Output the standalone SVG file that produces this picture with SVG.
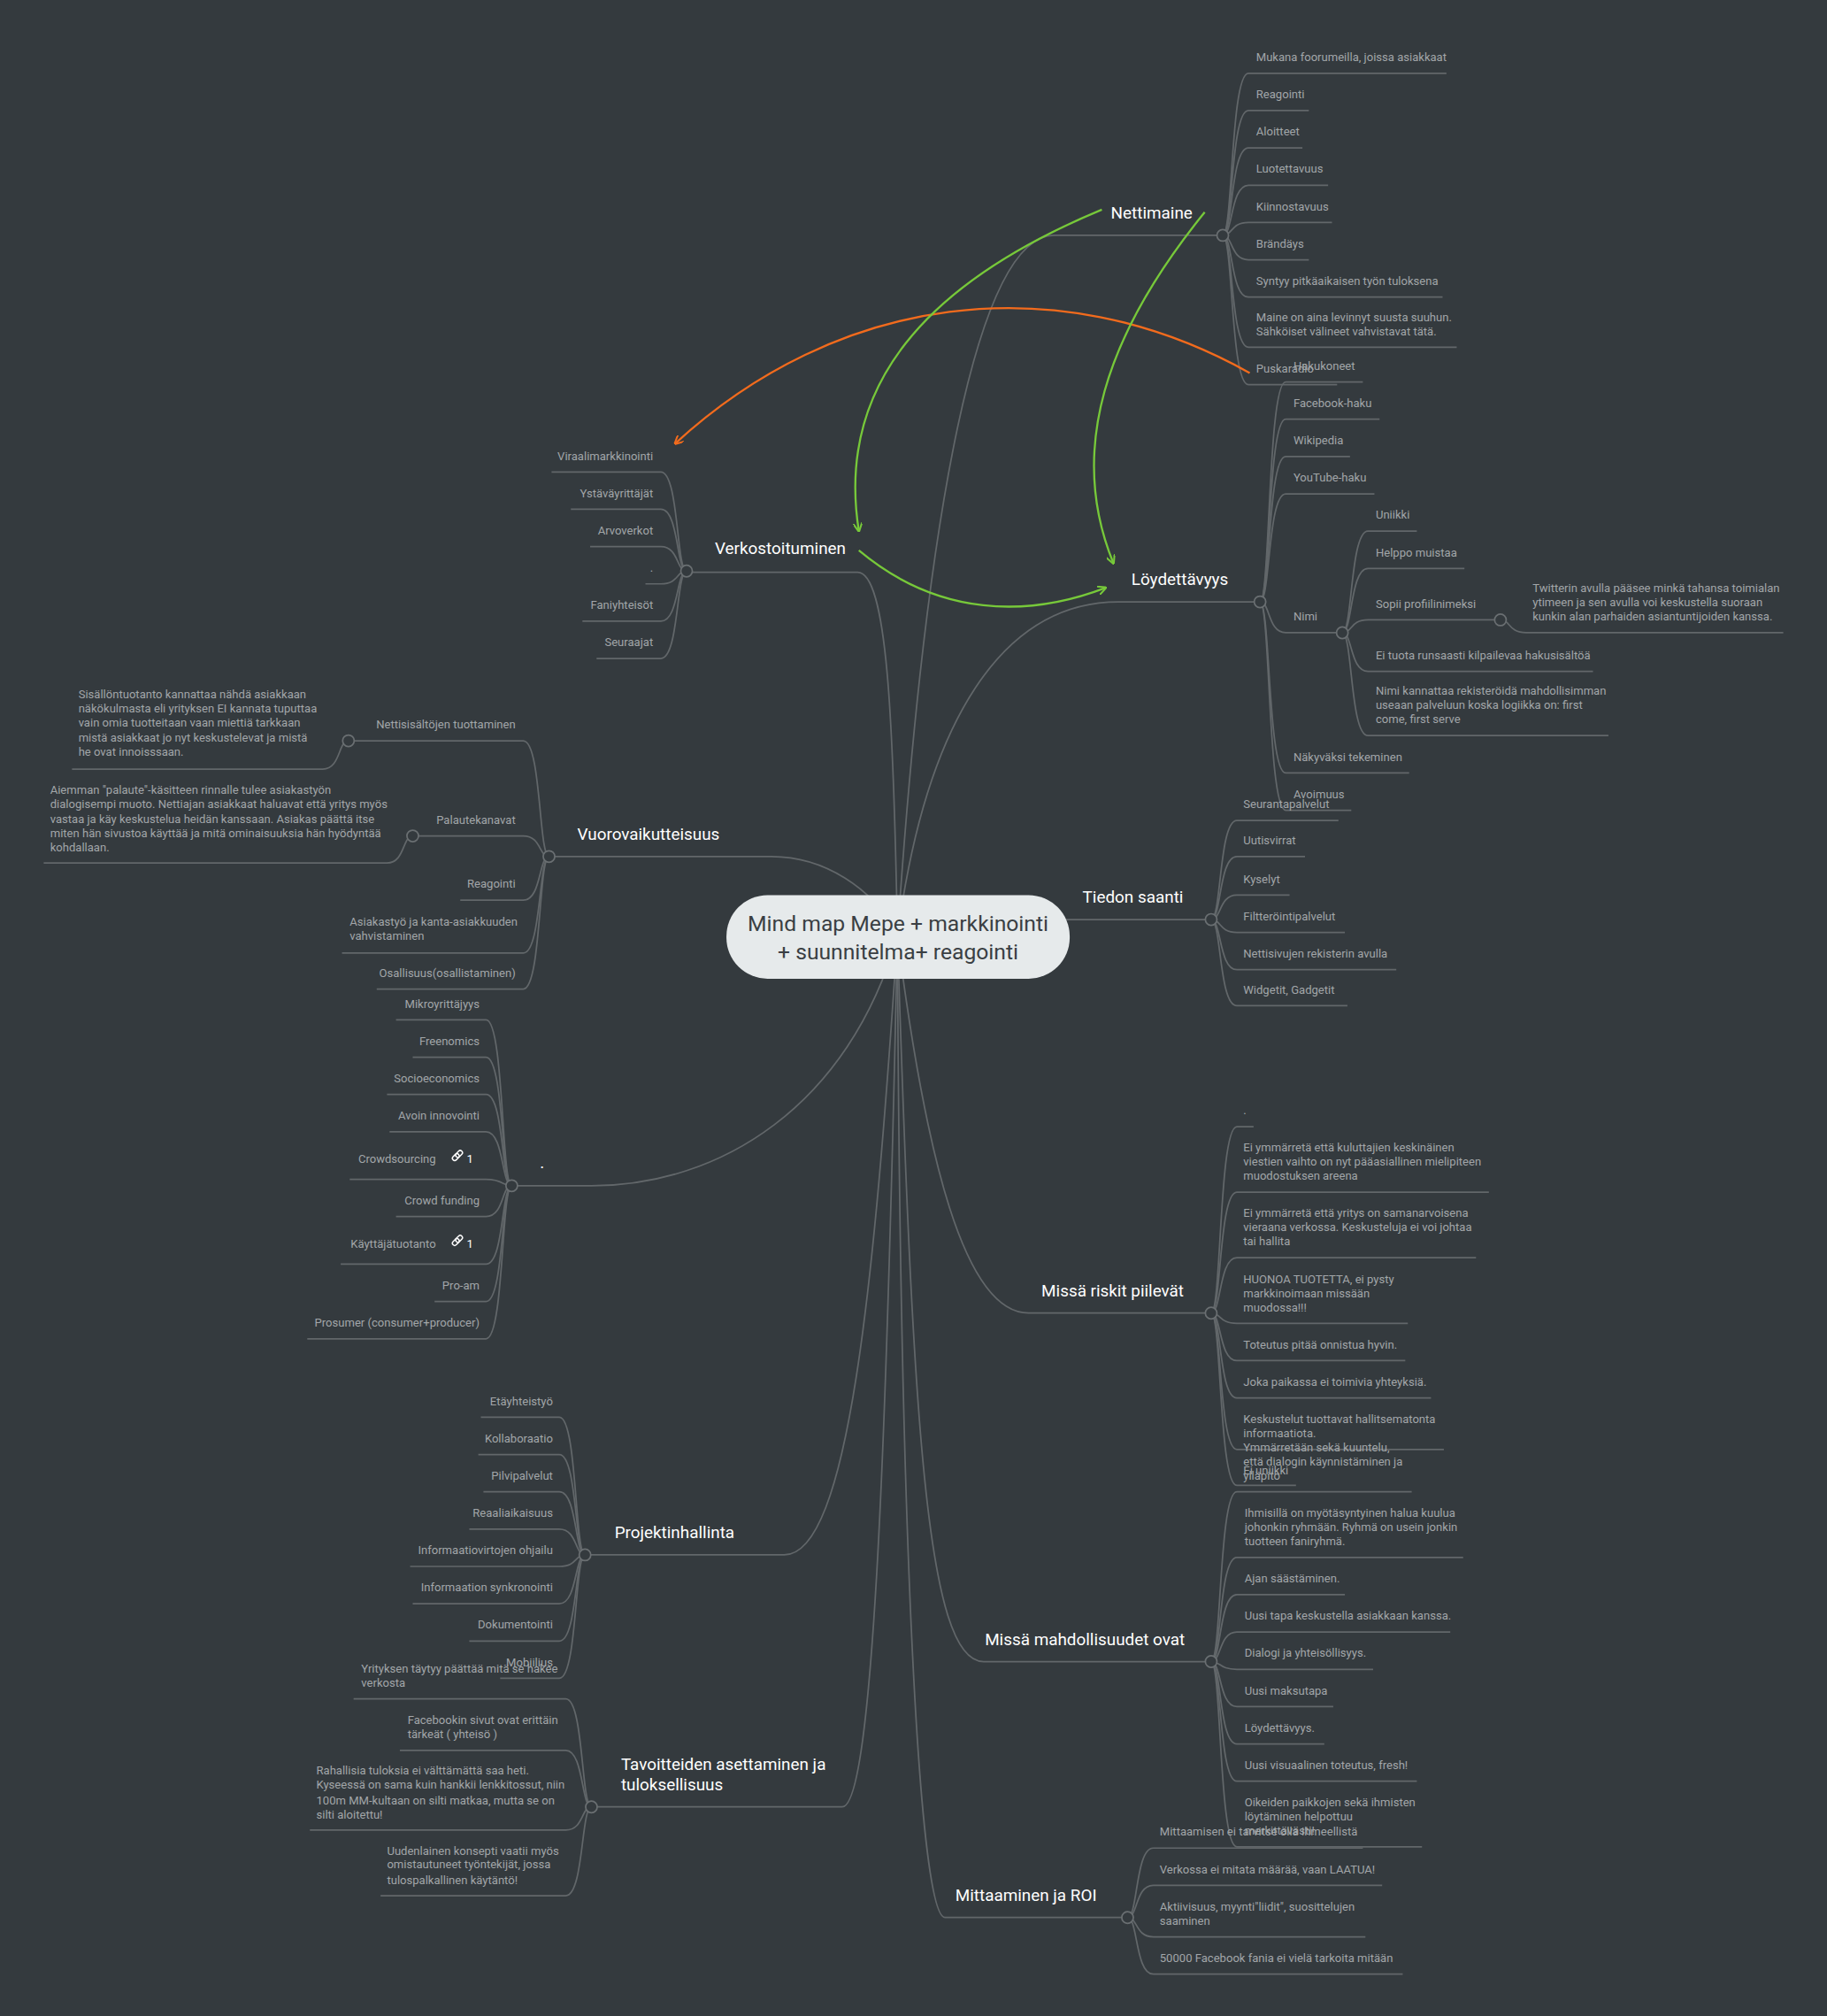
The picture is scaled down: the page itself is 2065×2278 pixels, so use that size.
<svg xmlns="http://www.w3.org/2000/svg" width="2065" height="2278" viewBox="0 0 2065 2278">
<style>
.t{font-family:Roboto,"Noto Sans","Liberation Sans",sans-serif;font-size:9px;fill:#a2a6a9}
.r{text-anchor:end}
.b{font-family:Roboto,"Noto Sans","Liberation Sans",sans-serif;font-size:13px;fill:#ffffff}
.l{fill:none;stroke:#62676a;stroke-width:1.2}
.h{fill:#343a3e;stroke:#6a6f72;stroke-width:1.2}
.w{font-family:Roboto,"Noto Sans","Liberation Sans",sans-serif;font-size:9px;fill:#ffffff}
</style>
<defs>
<marker id="ag" viewBox="0 0 10 10" refX="9" refY="5" markerWidth="7" markerHeight="7" orient="auto" markerUnits="userSpaceOnUse"><path d="M0,0 L10,5 L0,10" fill="none" stroke="#77c93a" stroke-width="2"/></marker>
<marker id="ao" viewBox="0 0 10 10" refX="9" refY="5" markerWidth="7" markerHeight="7" orient="auto" markerUnits="userSpaceOnUse"><path d="M0,0 L10,5 L0,10" fill="none" stroke="#f26b1d" stroke-width="2"/></marker>
</defs>
<rect width="2065" height="2278" fill="#343a3e"/>
<g transform="scale(1.4532)">
<g id="connectors" class="l">
<path d="M698,728 C720,400 760,183 820,183 H951"/>
<path d="M698,728 C720,560 780,468 870,468 H980"/>
<path d="M698,715 H942"/>
<path d="M698,728 C720,900 750,1021 800,1021 H942"/>
<path d="M698,728 C710,1100 720,1292 765,1292 H942"/>
<path d="M698,728 C700,1200 715,1491 735,1491 H877"/>
<path d="M698,728 C695,560 690,445 667,445 H534"/>
<path d="M698,728 C680,690 640,666 600,666 H427"/>
<path d="M698,728 C660,860 560,922 460,922 H398"/>
<path d="M698,728 C680,1000 660,1209 610,1209 H455"/>
<path d="M698,728 C690,1100 680,1405 655,1405 H460"/>
<path d="M951,183 C959,183 957,57 971,57 H1125"/>
<path d="M951,183 C959,183 957,86 971,86 H1018"/>
<path d="M951,183 C959,183 957,115 971,115 H1013"/>
<path d="M951,183 C959,183 957,144 971,144 H1033"/>
<path d="M951,183 C959,183 957,173 971,173 H1036"/>
<path d="M951,183 C959,183 957,202 971,202 H1018"/>
<path d="M951,183 C959,183 957,231 971,231 H1122"/>
<path d="M951,183 C959,183 957,270 971,270 H1133"/>
<path d="M951,183 C959,183 957,299 971,299 H1040"/>
<path d="M980,468 C988,468 986,297 1000,297 H1060"/>
<path d="M980,468 C988,468 986,326 1000,326 H1073"/>
<path d="M980,468 C988,468 986,355 1000,355 H1050"/>
<path d="M980,468 C988,468 986,384 1000,384 H1069"/>
<path d="M980,468 C988,468 986,492 1000,492 H1044"/>
<path d="M980,468 C988,468 986,601 1000,601 H1096"/>
<path d="M980,468 C988,468 986,630 1000,630 H1051"/>
<path d="M1044,492 C1052,492 1050,413 1064,413 H1102"/>
<path d="M1044,492 C1052,492 1050,442 1064,442 H1139"/>
<path d="M1044,492 C1052,492 1050,482 1064,482 H1167"/>
<path d="M1044,492 C1052,492 1050,522 1064,522 H1239"/>
<path d="M1044,492 C1052,492 1050,572 1064,572 H1251"/>
<path d="M1167,482 C1175,482 1173,492 1187,492 H1387"/>
<path d="M942,715 C950,715 948,638 962,638 H1041"/>
<path d="M942,715 C950,715 948,666 962,666 H1015"/>
<path d="M942,715 C950,715 948,696 962,696 H1003"/>
<path d="M942,715 C950,715 948,725 962,725 H1046"/>
<path d="M942,715 C950,715 948,754 962,754 H1086"/>
<path d="M942,715 C950,715 948,782 962,782 H1048"/>
<path d="M942,1021 C950,1021 948,876 962,876 H975"/>
<path d="M942,1021 C950,1021 948,927 962,927 H1158"/>
<path d="M942,1021 C950,1021 948,978 962,978 H1148"/>
<path d="M942,1021 C950,1021 948,1029 962,1029 H1095"/>
<path d="M942,1021 C950,1021 948,1058 962,1058 H1093"/>
<path d="M942,1021 C950,1021 948,1087 962,1087 H1113"/>
<path d="M942,1021 C950,1021 948,1127 962,1127 H1123"/>
<path d="M942,1021 C950,1021 948,1155 962,1155 H1008"/>
<path d="M942,1292 C950,1292 948,1160 962,1160 H1098"/>
<path d="M942,1292 C950,1292 948,1211 962,1211 H1138"/>
<path d="M942,1292 C950,1292 948,1240 962,1240 H1046"/>
<path d="M942,1292 C950,1292 948,1269 962,1269 H1128"/>
<path d="M942,1292 C950,1292 948,1298 962,1298 H1068"/>
<path d="M942,1292 C950,1292 948,1327 962,1327 H1037"/>
<path d="M942,1292 C950,1292 948,1356 962,1356 H1030"/>
<path d="M942,1292 C950,1292 948,1385 962,1385 H1102"/>
<path d="M942,1292 C950,1292 948,1436 962,1436 H1106"/>
<path d="M877,1491 C885,1491 883,1437 897,1437 H1060"/>
<path d="M877,1491 C885,1491 883,1466 897,1466 H1075"/>
<path d="M877,1491 C885,1491 883,1506 897,1506 H1062"/>
<path d="M877,1491 C885,1491 883,1535 897,1535 H1091"/>
<path d="M534,444 C526,444 528,367 514,367 H429"/>
<path d="M534,444 C526,444 528,396 514,396 H444"/>
<path d="M534,444 C526,444 528,425 514,425 H459"/>
<path d="M534,444 C526,444 528,454 514,454 H502"/>
<path d="M534,444 C526,444 528,483 514,483 H453"/>
<path d="M534,444 C526,444 528,512 514,512 H464"/>
<path d="M427,666 C419,666 421,576 407,576 H271"/>
<path d="M427,666 C419,666 421,650 407,650 H321"/>
<path d="M427,666 C419,666 421,700 407,700 H358"/>
<path d="M427,666 C419,666 421,741 407,741 H266"/>
<path d="M427,666 C419,666 421,769 407,769 H293"/>
<path d="M271,576 C263,576 265,598 251,598 H56"/>
<path d="M321,650 C313,650 315,671 301,671 H34"/>
<path d="M398,922 C390,922 392,793 378,793 H308"/>
<path d="M398,922 C390,922 392,822 378,822 H321"/>
<path d="M398,922 C390,922 392,851 378,851 H301"/>
<path d="M398,922 C390,922 392,880 378,880 H303"/>
<path d="M398,922 C390,922 392,917 378,917 H272"/>
<path d="M398,922 C390,922 392,946 378,946 H308"/>
<path d="M398,922 C390,922 392,983 378,983 H265"/>
<path d="M398,922 C390,922 392,1012 378,1012 H338"/>
<path d="M398,922 C390,922 392,1041 378,1041 H239"/>
<path d="M455,1209 C447,1209 449,1102 435,1102 H374"/>
<path d="M455,1209 C447,1209 449,1131 435,1131 H372"/>
<path d="M455,1209 C447,1209 449,1160 435,1160 H376"/>
<path d="M455,1209 C447,1209 449,1189 435,1189 H365"/>
<path d="M455,1209 C447,1209 449,1218 435,1218 H319"/>
<path d="M455,1209 C447,1209 449,1247 435,1247 H321"/>
<path d="M455,1209 C447,1209 449,1276 435,1276 H365"/>
<path d="M455,1209 C447,1209 449,1305 435,1305 H389"/>
<path d="M460,1405 C452,1405 454,1321 440,1321 H275"/>
<path d="M460,1405 C452,1405 454,1361 440,1361 H311"/>
<path d="M460,1405 C452,1405 454,1423 440,1423 H241"/>
<path d="M460,1405 C452,1405 454,1474 440,1474 H296"/>
</g>
<g id="relations" fill="none" stroke-width="1.6">
<path d="M972,290 C820,205 650,230 525,345" stroke="#f26b1d" marker-end="url(#ao)"/>
<path d="M857,163 C720,220 650,300 668,413" stroke="#77c93a" marker-end="url(#ag)"/>
<path d="M937,165 C860,260 830,350 866,438" stroke="#77c93a" marker-end="url(#ag)"/>
<path d="M668,428 C730,480 800,480 860,457" stroke="#77c93a" marker-end="url(#ag)"/>
</g>
<g id="hubs">
<circle class="h" cx="951" cy="183" r="4.5"/><circle class="h" cx="980" cy="468" r="4.5"/>
<circle class="h" cx="1044" cy="492" r="4.5"/><circle class="h" cx="1167" cy="482" r="4.5"/>
<circle class="h" cx="942" cy="715" r="4.5"/><circle class="h" cx="942" cy="1021" r="4.5"/>
<circle class="h" cx="942" cy="1292" r="4.5"/><circle class="h" cx="877" cy="1491" r="4.5"/>
<circle class="h" cx="534" cy="444" r="4.5"/><circle class="h" cx="427" cy="666" r="4.5"/>
<circle class="h" cx="271" cy="576" r="4.5"/><circle class="h" cx="321" cy="650" r="4.5"/>
<circle class="h" cx="398" cy="922" r="4.5"/><circle class="h" cx="455" cy="1209" r="4.5"/>
<circle class="h" cx="460" cy="1405" r="4.5"/>
</g>
<g id="center">
<rect x="565" y="696" width="267" height="65" rx="32" fill="#e6eaeb"/>
<text x="698.5" y="724" text-anchor="middle" font-family="Roboto,'Noto Sans','Liberation Sans',sans-serif" font-size="17" fill="#3a3f43">Mind map Mepe + markkinointi</text>
<text x="698.5" y="746" text-anchor="middle" font-family="Roboto,'Noto Sans','Liberation Sans',sans-serif" font-size="17" fill="#3a3f43">+ suunnitelma+ reagointi</text>
</g>
<g id="nettimaine">
<text class="b" x="864" y="170">Nettimaine</text>
<text class="t" x="977" y="47.5">Mukana foorumeilla, joissa asiakkaat</text>
<text class="t" x="977" y="76.5">Reagointi</text>
<text class="t" x="977" y="105.5">Aloitteet</text>
<text class="t" x="977" y="134.5">Luotettavuus</text>
<text class="t" x="977" y="163.5">Kiinnostavuus</text>
<text class="t" x="977" y="192.5">Brändäys</text>
<text class="t" x="977" y="221.5">Syntyy pitkäaikaisen työn tuloksena</text>
<text class="t" x="977" y="249.5">Maine on aina levinnyt suusta suuhun.</text>
<text class="t" x="977" y="260.5">Sähköiset välineet vahvistavat tätä.</text>
<text class="t" x="977" y="289.5">Puskaradio</text>
</g>
<g id="loydettavyys">
<text class="b" x="880" y="455">Löydettävyys</text>
<text class="t" x="1006" y="287.5">Hakukoneet</text>
<text class="t" x="1006" y="316.5">Facebook-haku</text>
<text class="t" x="1006" y="345.5">Wikipedia</text>
<text class="t" x="1006" y="374.5">YouTube-haku</text>
<text class="t" x="1006" y="482.5">Nimi</text>
<text class="t" x="1070" y="403.5">Uniikki</text>
<text class="t" x="1070" y="432.5">Helppo muistaa</text>
<text class="t" x="1070" y="472.5">Sopii profiilinimeksi</text>
<text class="t" x="1192" y="460.5">Twitterin avulla pääsee minkä tahansa toimialan</text>
<text class="t" x="1192" y="471.5">ytimeen ja sen avulla voi keskustella suoraan</text>
<text class="t" x="1192" y="482.5">kunkin alan parhaiden asiantuntijoiden kanssa.</text>
<text class="t" x="1070" y="512.5">Ei tuota runsaasti kilpailevaa hakusisältöä</text>
<text class="t" x="1070" y="540.5">Nimi kannattaa rekisteröidä mahdollisimman</text>
<text class="t" x="1070" y="551.5">useaan palveluun koska logiikka on: first</text>
<text class="t" x="1070" y="562.5">come, first serve</text>
<text class="t" x="1006" y="591.5">Näkyväksi tekeminen</text>
<text class="t" x="1006" y="620.5">Avoimuus</text>
</g>
<g id="tiedon-saanti">
<text class="b" x="842" y="702">Tiedon saanti</text>
<text class="t" x="967" y="628.5">Seurantapalvelut</text>
<text class="t" x="967" y="656.5">Uutisvirrat</text>
<text class="t" x="967" y="686.5">Kyselyt</text>
<text class="t" x="967" y="715.5">Filtteröintipalvelut</text>
<text class="t" x="967" y="744.5">Nettisivujen rekisterin avulla</text>
<text class="t" x="967" y="772.5">Widgetit, Gadgetit</text>
</g>
<g id="riskit">
<text class="b" x="810" y="1008">Missä riskit piilevät</text>
<text class="t" x="967" y="866.5">.</text>
<text class="t" x="967" y="895.5">Ei ymmärretä että kuluttajien keskinäinen</text>
<text class="t" x="967" y="906.5">viestien vaihto on nyt pääasiallinen mielipiteen</text>
<text class="t" x="967" y="917.5">muodostuksen areena</text>
<text class="t" x="967" y="946.5">Ei ymmärretä että yritys on samanarvoisena</text>
<text class="t" x="967" y="957.5">vieraana verkossa. Keskusteluja ei voi johtaa</text>
<text class="t" x="967" y="968.5">tai hallita</text>
<text class="t" x="967" y="997.5">HUONOA TUOTETTA, ei pysty</text>
<text class="t" x="967" y="1008.5">markkinoimaan missään</text>
<text class="t" x="967" y="1019.5">muodossa!!!</text>
<text class="t" x="967" y="1048.5">Toteutus pitää onnistua hyvin.</text>
<text class="t" x="967" y="1077.5">Joka paikassa ei toimivia yhteyksiä.</text>
<text class="t" x="967" y="1106.5">Keskustelut tuottavat hallitsematonta</text>
<text class="t" x="967" y="1117.5">informaatiota.</text>
<text class="t" x="967" y="1146.5">Ei uniikki</text>
</g>
<g id="mahdollisuudet">
<text class="b" x="766" y="1279">Missä mahdollisuudet ovat</text>
<text class="t" x="967" y="1128.5">Ymmärretään sekä kuuntelu,</text>
<text class="t" x="967" y="1139.5">että dialogin käynnistäminen ja</text>
<text class="t" x="967" y="1150.5">ylläpito</text>
<text class="t" x="968" y="1179.5">Ihmisillä on myötäsyntyinen halua kuulua</text>
<text class="t" x="968" y="1190.5">johonkin ryhmään. Ryhmä on usein jonkin</text>
<text class="t" x="968" y="1201.5">tuotteen faniryhmä.</text>
<text class="t" x="968" y="1230.5">Ajan säästäminen.</text>
<text class="t" x="968" y="1259.5">Uusi tapa keskustella asiakkaan kanssa.</text>
<text class="t" x="968" y="1288.5">Dialogi ja yhteisöllisyys.</text>
<text class="t" x="968" y="1317.5">Uusi maksutapa</text>
<text class="t" x="968" y="1346.5">Löydettävyys.</text>
<text class="t" x="968" y="1375.5">Uusi visuaalinen toteutus, fresh!</text>
<text class="t" x="968" y="1404.5">Oikeiden paikkojen sekä ihmisten</text>
<text class="t" x="968" y="1415.5">löytäminen helpottuu</text>
<text class="t" x="968" y="1426.5">merkittävästi!</text>
</g>
<g id="mittaaminen">
<text class="b" x="743" y="1478">Mittaaminen ja ROI</text>
<text class="t" x="902" y="1427.5">Mittaamisen ei tarvitse olla ihmeellistä</text>
<text class="t" x="902" y="1456.5">Verkossa ei mitata määrää, vaan LAATUA!</text>
<text class="t" x="902" y="1485.5">Aktiivisuus, myynti"liidit", suosittelujen</text>
<text class="t" x="902" y="1496.5">saaminen</text>
<text class="t" x="902" y="1525.5">50000 Facebook fania ei vielä tarkoita mitään</text>
</g>
<g id="verkostoituminen">
<text class="b" x="556" y="431">Verkostoituminen</text>
<text class="t r" x="508" y="357.5">Viraalimarkkinointi</text>
<text class="t r" x="508" y="386.5">Ystäväyrittäjät</text>
<text class="t r" x="508" y="415.5">Arvoverkot</text>
<text class="t r" x="508" y="444.5">.</text>
<text class="t r" x="508" y="473.5">Faniyhteisöt</text>
<text class="t r" x="508" y="502.5">Seuraajat</text>
</g>
<g id="vuorovaikutteisuus">
<text class="b" x="449" y="653">Vuorovaikutteisuus</text>
<text class="t r" x="401" y="566.5">Nettisisältöjen tuottaminen</text>
<text class="t" x="61" y="543">Sisällöntuotanto kannattaa nähdä asiakkaan</text>
<text class="t" x="61" y="554">näkökulmasta eli yrityksen EI kannata tuputtaa</text>
<text class="t" x="61" y="565">vain omia tuotteitaan vaan miettiä tarkkaan</text>
<text class="t" x="61" y="577">mistä asiakkaat jo nyt keskustelevat ja mistä</text>
<text class="t" x="61" y="588">he ovat innoisssaan.</text>
<text class="t r" x="401" y="640.5">Palautekanavat</text>
<text class="t" x="39" y="617">Aiemman "palaute"-käsitteen rinnalle tulee asiakastyön</text>
<text class="t" x="39" y="628">dialogisempi muoto. Nettiajan asiakkaat haluavat että yritys myös</text>
<text class="t" x="39" y="640">vastaa ja käy keskustelua heidän kanssaan. Asiakas päättä itse</text>
<text class="t" x="39" y="651">miten hän sivustoa käyttää ja mitä ominaisuuksia hän hyödyntää</text>
<text class="t" x="39" y="662">kohdallaan.</text>
<text class="t r" x="401" y="690.5">Reagointi</text>
<text class="t" x="272" y="720">Asiakastyö ja kanta-asiakkuuden</text>
<text class="t" x="272" y="731">vahvistaminen</text>
<text class="t r" x="401" y="759.5">Osallisuus(osallistaminen)</text>
</g>
<g id="dot-branch">
<text class="b" x="420" y="908">.</text>
<text class="t r" x="373" y="783.5">Mikroyrittäjyys</text>
<text class="t r" x="373" y="812.5">Freenomics</text>
<text class="t r" x="373" y="841.5">Socioeconomics</text>
<text class="t r" x="373" y="870.5">Avoin innovointi</text>
<text class="t r" x="339" y="904">Crowdsourcing</text>
<g fill="none" stroke="#ffffff" stroke-width="1"><rect x="351.5" y="898" width="6" height="3.5" rx="1.7" transform="rotate(-45 354.5 899.7)"/><rect x="354" y="895.5" width="6" height="3.5" rx="1.7" transform="rotate(-45 357 897.2)"/></g>
<text class="w" x="363" y="904">1</text>
<text class="t r" x="373" y="936.5">Crowd funding</text>
<text class="t r" x="339" y="970">Käyttäjätuotanto</text>
<g fill="none" stroke="#ffffff" stroke-width="1"><rect x="351.5" y="964" width="6" height="3.5" rx="1.7" transform="rotate(-45 354.5 965.7)"/><rect x="354" y="961.5" width="6" height="3.5" rx="1.7" transform="rotate(-45 357 963.2)"/></g>
<text class="w" x="363" y="970">1</text>
<text class="t r" x="373" y="1002.5">Pro-am</text>
<text class="t r" x="373" y="1031.5">Prosumer (consumer+producer)</text>
</g>
<g id="projektinhallinta">
<text class="b" x="478" y="1196">Projektinhallinta</text>
<text class="t r" x="430" y="1092.5">Etäyhteistyö</text>
<text class="t r" x="430" y="1121.5">Kollaboraatio</text>
<text class="t r" x="430" y="1150.5">Pilvipalvelut</text>
<text class="t r" x="430" y="1179.5">Reaaliaikaisuus</text>
<text class="t r" x="430" y="1208.5">Informaatiovirtojen ohjailu</text>
<text class="t r" x="430" y="1237.5">Informaation synkronointi</text>
<text class="t r" x="430" y="1266.5">Dokumentointi</text>
<text class="t r" x="430" y="1295.5">Mobiilius</text>
</g>
<g id="tavoitteiden">
<text class="b" x="483" y="1376">Tavoitteiden asettaminen ja</text>
<text class="b" x="483" y="1392">tuloksellisuus</text>
<text class="t" x="281" y="1300.5">Yrityksen täytyy päättää mitä se hakee</text>
<text class="t" x="281" y="1311.5">verkosta</text>
<text class="t" x="317" y="1340.5">Facebookin sivut ovat erittäin</text>
<text class="t" x="317" y="1351.5">tärkeät ( yhteisö )</text>
<text class="t" x="246" y="1380">Rahallisia tuloksia ei välttämättä saa heti.</text>
<text class="t" x="246" y="1391">Kyseessä on sama kuin hankkii lenkkitossut, niin</text>
<text class="t" x="246" y="1403">100m MM-kultaan on silti matkaa, mutta se on</text>
<text class="t" x="246" y="1414">silti aloitettu!</text>
<text class="t" x="301" y="1442">Uudenlainen konsepti vaatii myös</text>
<text class="t" x="301" y="1453">omistautuneet työntekijät, jossa</text>
<text class="t" x="301" y="1465">tulospalkallinen käytäntö!</text>
</g>
</g>
</svg>
